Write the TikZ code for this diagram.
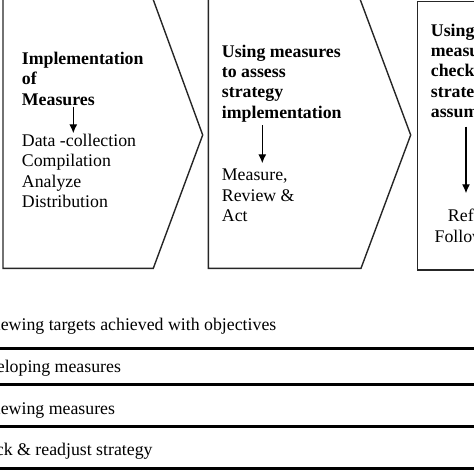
\documentclass[tikz,border=0pt]{standalone}
\usepackage{fontspec}
\setmainfont{Liberation Serif}
\usetikzlibrary{arrows.meta}
\tikzset{
    stage/.style={draw=black!85, line width=1.4pt, line join=miter},
    heading/.style={anchor=base west, inner sep=0pt, align=left, font=\fontsize{17.8}{20.3}\selectfont\bfseries},
    items/.style={anchor=base west, inner sep=0pt, align=left, font=\fontsize{17.8}{20.3}\selectfont},
    rowtext/.style={anchor=base west, inner sep=0pt, font=\fontsize{17.8}{20.3}\selectfont},
    pointer/.style={line width=1.3pt, -{Latex[length=9pt,width=8pt]}},
    rule/.style={line width=3pt},
}

\begin{document}
\begin{tikzpicture}[x=1pt, y=-1pt]
    \useasboundingbox (0,0) rectangle (474,474);
    \clip (0,0) rectangle (474,474);

    \draw[stage] (153,-1) -- (3,-1) -- (3,268.3) -- (153.3,268.3) -- (202.7,135) -- cycle;
    \draw[stage] (360,-1) -- (208.3,-1) -- (208.3,268.3) -- (361,268.3) -- (410.7,135) -- cycle;
    \draw[stage] (490,1.5) -- (417.3,1.5) -- (417.3,270) -- (490,270);

    \node[heading] (impl) at (21.7,105) {Implementation\\of\\Measures};
    \node[items] (steps) at (21.7,207.5) {Data -collection\\Compilation\\Analyze\\Distribution};
    \node[heading] (assess) at (221.7,118) {Using measures\\to assess\\strategy\\implementation};
    \node[items] (act) at (221.7,221.5) {Measure,\\Review \&\\Act};
    \node[heading] (check) at (430.7,117.5) {Using\\measures to\\check\\strategy\\assumptions};
    \node[items, anchor=base, align=center] (refine) at (471.7,242) {Refine\\Follow-up};

    \coordinate (p1a) at (73.3,106.7);
    \coordinate (p1b) at (73.3,133.3);
    \coordinate (p2a) at (262.3,125);
    \coordinate (p2b) at (262.3,163.3);
    \coordinate (p3a) at (466,126.7);
    \coordinate (p3b) at (466,193.3);
    \draw[pointer] (p1a) -- (p1b);
    \draw[pointer] (p2a) -- (p2b);
    \draw[pointer] (p3a) -- (p3b);

    \node[rowtext] (review) at (-33,330) {Reviewing targets achieved with objectives};
    \node[rowtext] (develop) at (-33,372) {Developing measures};
    \node[rowtext] (revmeas) at (-33,414) {Reviewing measures};
    \node[rowtext] (readjust) at (-33,455) {Check \& readjust strategy};

    \draw[rule] (-5,348.3) -- (480,348.3);
    \draw[rule] (-5,384.5) -- (480,384.5);
    \draw[rule] (-5,426.5) -- (480,426.5);
    \draw[rule] (-5,468.3) -- (480,468.3);
\end{tikzpicture}
\end{document}
